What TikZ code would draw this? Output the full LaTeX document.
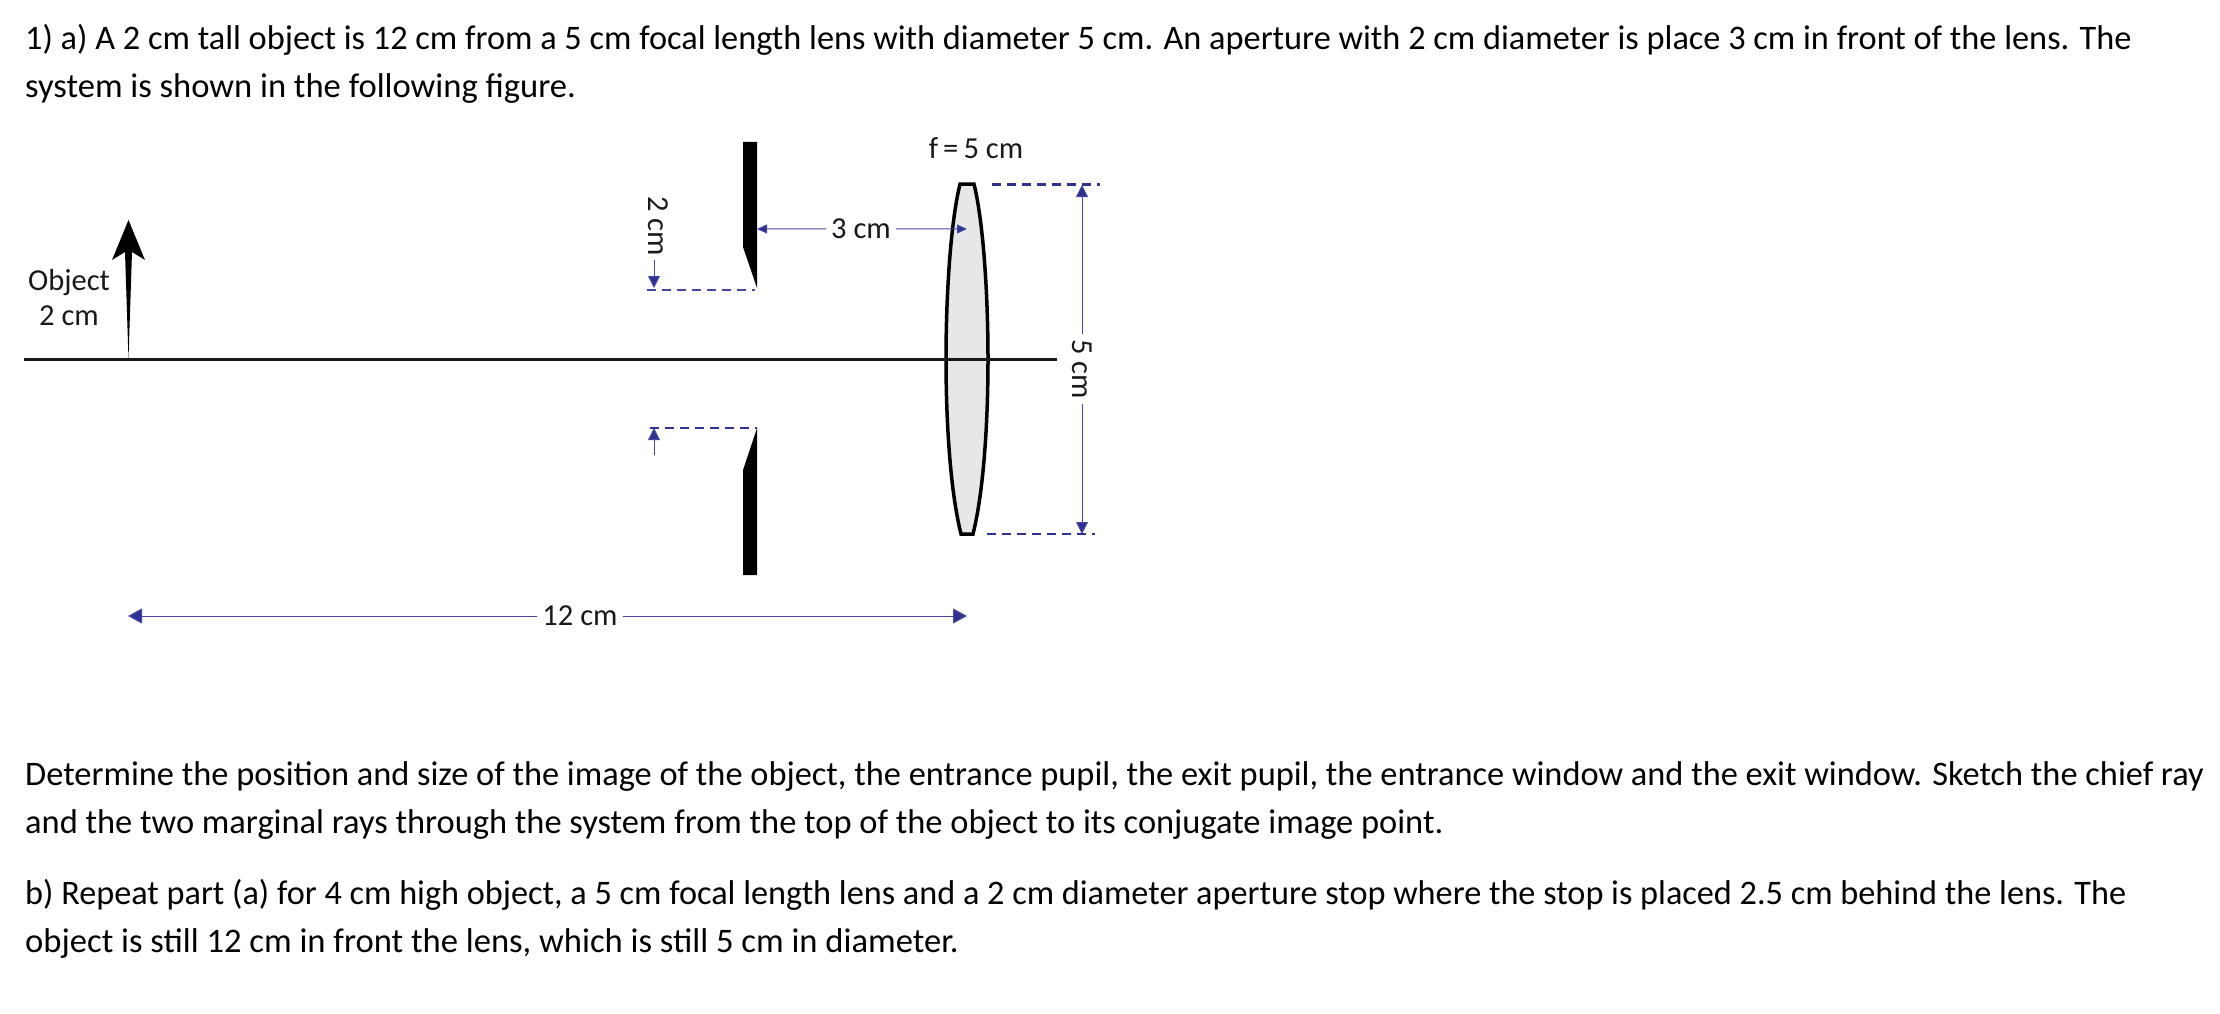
\documentclass[tikz,border=0pt]{standalone}
\usepackage{fontspec}
\setmainfont{Carlito}
\usetikzlibrary{arrows.meta}
\definecolor{dimblue}{RGB}{46,49,146}
\definecolor{dimlight}{RGB}{70,72,160}
\definecolor{lensgray}{RGB}{230,231,232}
\tikzset{
  x=1pt,y=-1pt,
  para/.style={anchor=base west,inner sep=0pt,font=\fontsize{34.4}{34}\selectfont},
  lab/.style={inner sep=0pt,font=\fontsize{30.5}{35}\selectfont,text=black!90},
  dimlabel/.style={lab,fill=white,inner xsep=5pt,inner ysep=2pt},
  dimline/.style={draw=dimlight,line width=1pt},
  dimarrow/.style={draw=dimlight,line width=1pt,-{Triangle[length=14pt,width=15pt,fill=dimblue]}},
  smallarrow/.style={dimline,-{Triangle[length=10pt,width=9pt,fill=dimblue]}},
  midarrow/.style={dimline,-{Triangle[length=12pt,width=12pt,fill=dimblue]}},
  dimdash/.style={draw=dimblue,line width=2.3pt,dash pattern=on 9pt off 6pt},
  lightdash/.style={draw=dimlight,line width=1.6pt,dash pattern=on 9pt off 6pt},
}
\begin{document}
\begin{tikzpicture}
\useasboundingbox (0,0) rectangle (2220,1014);
\node[para,xscale=0.9973] (l1) at (25,50) {1) a) A 2 cm tall object is 12 cm from a 5 cm focal length lens with diameter 5 cm. An aperture with 2 cm diameter is place 3 cm in front of the lens. The};
\node[para,xscale=1.005] (l2) at (25,98) {system is shown in the following figure.};
\node[para,xscale=0.9993] (l3) at (25,785) {Determine the position and size of the image of the object, the entrance pupil, the exit pupil, the entrance window and the exit window. Sketch the chief ray};
\node[para,xscale=1.001] (l4) at (25,833) {and the two marginal rays through the system from the top of the object to its conjugate image point.};
\node[para,xscale=0.9955] (l5) at (25,904) {b) Repeat part (a) for 4 cm high object, a 5 cm focal length lens and a 2 cm diameter aperture stop where the stop is placed 2.5 cm behind the lens. The};
\node[para,xscale=1.006] (l6) at (25,952) {object is still 12 cm in front the lens, which is still 5 cm in diameter.};

% lens
\draw[fill=lensgray,line width=3.5pt,line join=miter]
  (960,184) .. controls (950,225) and (946,300) .. (946,359)
  .. controls (946,420) and (950,490) .. (961,534) -- (973,534)
  .. controls (984,490) and (988,420) .. (988,359)
  .. controls (988,300) and (984,225) .. (974,184) -- cycle;

% axis
\coordinate (axisL) at (24,359);
\coordinate (axisR) at (1057,359);
\draw[line width=3pt,black!90] (axisL) -- (axisR);

% object arrow
\fill[black] (128.5,359) -- (125,252) -- (112,260) -- (128.5,220) -- (145,260) -- (132,252) -- cycle;
\node[lab,align=center] (obj) at (69,298) {Object\\2 cm};

% stop
\fill[black] (743,142) -- (757,142) -- (757,288) -- (743,247) -- cycle;
\fill[black] (743,575) -- (757,575) -- (757,428) -- (743,470) -- cycle;

% 12 cm
\coordinate (a12L) at (128,616);
\coordinate (a12R) at (967,616);
\node[dimlabel] (d12) at (580,616) {12 cm};
\draw[dimarrow] (d12) -- (a12L);
\draw[dimarrow] (d12) -- (a12R);

% 3 cm
\coordinate (a3L) at (757,229);
\coordinate (a3R) at (967,229);
\node[dimlabel] (d3) at (861,228.9) {3 cm};
\draw[smallarrow] (d3) -- (a3L);
\draw[smallarrow] (d3) -- (a3R);

% f
\node[lab] (f) at (976,148) {f\,=\,5 cm};

% 2 cm
\coordinate (t2) at (654,288);
\node[lab,rotate=-90] (d2) at (658,226) {2 cm};
\draw[midarrow] (654,260) -- (t2);
\draw[lightdash] (647,290) -- (755,290);
\coordinate (t2b) at (654,428);
\draw[midarrow] (654,455) -- (t2b);
\draw[dimdash] (650,428) -- (757,428);

% 5 cm
\coordinate (t5a) at (1082,185);
\coordinate (t5b) at (1082,534);
\node[dimlabel,rotate=-90] (d5) at (1082,369) {5 cm};
\draw[midarrow] (d5) -- (t5a);
\draw[midarrow] (d5) -- (t5b);
\draw[dimdash] (992,184.5) -- (1100,184.5);
\draw[dimdash] (987,534) -- (1095,534);
\end{tikzpicture}
\end{document}
